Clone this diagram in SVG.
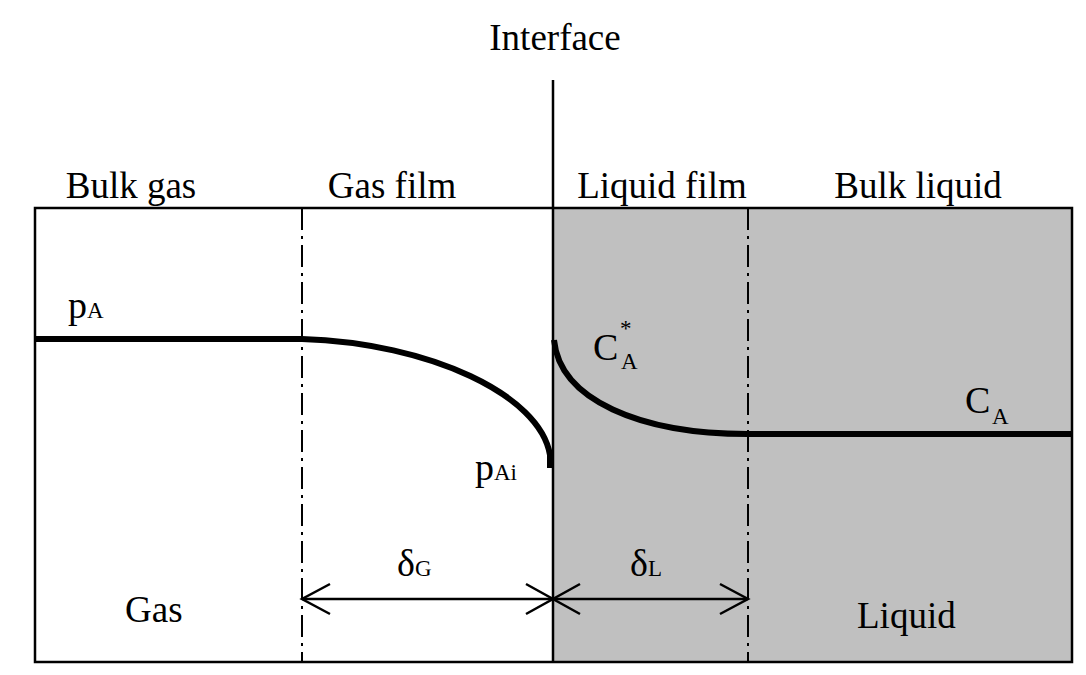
<svg xmlns="http://www.w3.org/2000/svg" width="1086" height="675" viewBox="0 0 1086 675">
<style>
text{font-family:"Liberation Serif",serif;fill:#000}
.l{font-size:37px}
.thin{stroke:#000;stroke-width:2.5;fill:none}
.dd{stroke:#000;stroke-width:2;fill:none;stroke-dasharray:22,6,3,6}
.thick{stroke:#000;stroke-width:6;fill:none}
</style>
<rect width="1086" height="675" fill="#fff"/>
<g id="liquid-region"><rect x="553" y="208" width="519" height="454" fill="#c0c0c0"/></g>
<g id="box"><rect x="35" y="208" width="1037" height="454" class="thin"/></g>
<g id="interface"><line x1="553" y1="80" x2="553" y2="662" class="thin"/><text x="555" y="50" class="l" text-anchor="middle">Interface</text></g>
<g id="boundaries"><line x1="302" y1="208" x2="302" y2="662" class="dd"/><line x1="748" y1="208" x2="748" y2="662" class="dd"/></g>
<g id="labels">
<text x="131" y="198" class="l" text-anchor="middle">Bulk gas</text>
<text x="392" y="198" class="l" text-anchor="middle">Gas film</text>
<text x="662" y="198" class="l" text-anchor="middle">Liquid film</text>
<text x="918" y="198" class="l" text-anchor="middle">Bulk liquid</text>
<text x="125" y="622" class="l">Gas</text>
<text x="857" y="628" class="l">Liquid</text>
<text x="68" y="318" font-size="38">p<tspan font-size="23">A</tspan></text>
<text x="475" y="480" font-size="38">p<tspan font-size="23">Ai</tspan></text>
<text x="593" y="360" font-size="38">C</text><text x="620" y="336" font-size="23">*</text><text x="621" y="369" font-size="23">A</text>
<text x="965" y="413" font-size="38">C</text><text x="992" y="424" font-size="23">A</text>
<text x="397" y="576" font-size="38">δ<tspan font-size="23">G</tspan></text>
<text x="630" y="576" font-size="38">δ<tspan font-size="23">L</tspan></text>
</g>
<g id="profiles">
<path class="thick" d="M35,339 H302 C430,343 540,395 550,455 V468"/>
<path class="thick" d="M554,340 C560,400 640,434 748,434 H1072"/>
</g>
<g id="connectors">
<line x1="302" y1="599" x2="748" y2="599" class="thin"/>
<path class="thin" d="M330,584 L302,599 L330,614 M526,584 L553,599 L526,614 M580,584 L553,599 L580,614 M720,584 L748,599 L720,614"/>
</g>
</svg>
